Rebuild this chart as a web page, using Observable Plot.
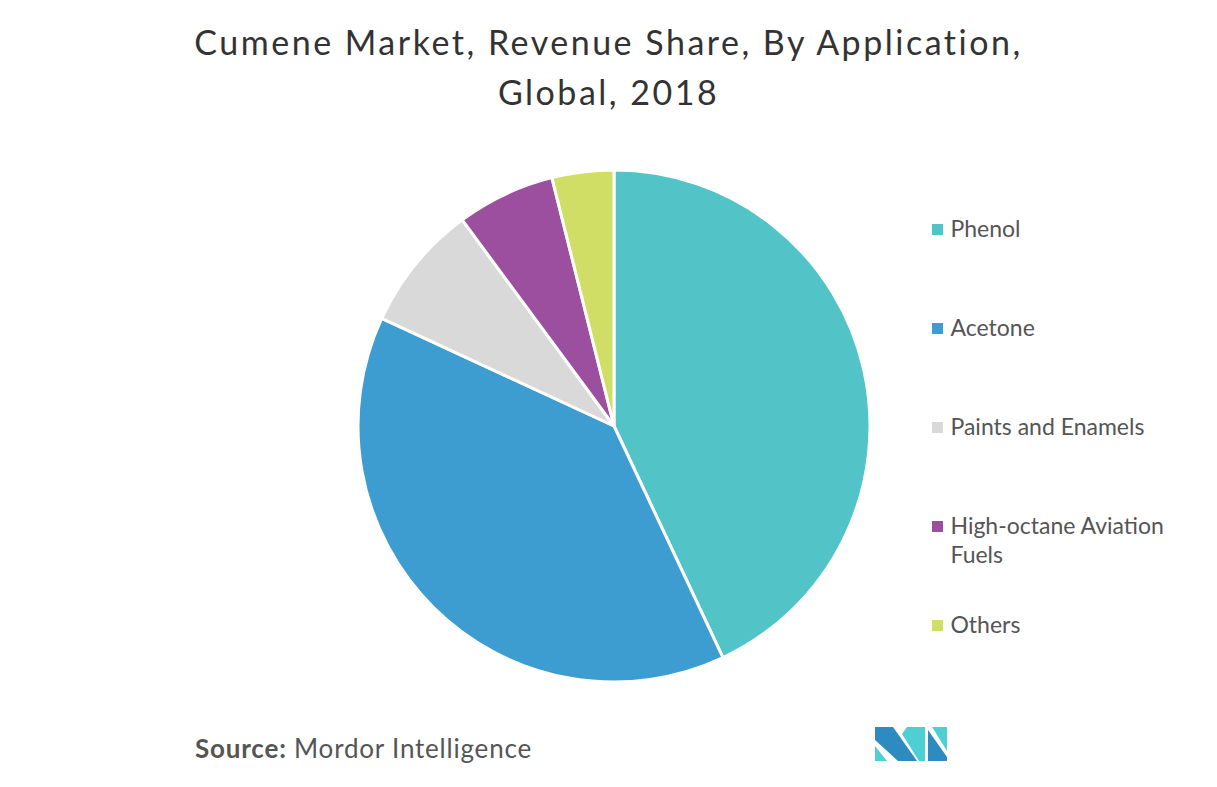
<!DOCTYPE html>
<html>
<head>
<meta charset="utf-8">
<script src="https://cdn.jsdelivr.net/npm/d3@7"></script>
<script src="https://cdn.jsdelivr.net/npm/@observablehq/plot@0.6"></script>
<style>
  html, body { margin: 0; padding: 0; background: #fff; }
  #wrap { position: relative; width: 1217px; height: 787px; overflow: hidden; font-family: Lato, "Open Sans", sans-serif; }
  #title { position: absolute; left: 0; top: 17px; width: 1217px; text-align: center; font-size: 34px; line-height: 50px; color: #333; letter-spacing: 2.5px; }
  #chart { position: absolute; left: 0; top: 140px; }
  #source { position: absolute; left: 195px; top: 732px; font-size: 26px; color: #555; letter-spacing: 0.8px; }
  #source b { font-weight: 700; }
  #logo { position: absolute; left: 875px; top: 727px; }
</style>
</head>
<body>
<div id="wrap">
  <div id="title">Cumene Market, Revenue Share, By Application,<br>Global, 2018</div>
  <div id="chart"></div>
  <div id="source"><b>Source:</b> Mordor Intelligence</div>
  <svg id="logo" width="72" height="36" viewBox="0 0 72 36">
    <polygon points="0,0 18,0 42,34 23,34 0,13" fill="#2E8BC0"/>
    <polygon points="0,19 0,34 12,34" fill="#4ECFD4"/>
    <polygon points="27,7 32,0 50,0 50,34 44,34" fill="#4ECFD4"/>
    <polygon points="53,3 53,34 72,34 72,30" fill="#2E8BC0"/>
    <polygon points="57,0 72,0 72,24" fill="#4ECFD4"/>
  </svg>
</div>
<script>
const categories = ["Phenol", "Acetone", "Paints and Enamels", "High-octane Aviation Fuels", "Others"];
const legendLabels = ["Phenol", "Acetone", "Paints and Enamels", "High-octane Aviation\nFuels", "Others"];
const shares = [43.0, 38.9, 8.0, 6.2, 3.9];
const colors = ["#52C4C7", "#3D9DD0", "#D9D9D9", "#9B4F9E", "#D1DE65"];

const data = categories.map((name, i) => ({name, value: shares[i], label: legendLabels[i]}));

const W = 1217, H = 560;
const cx = 614, cy = 286, R = 256;

function pieMark(index, scales) {
  const g = d3.create("svg:g").attr("transform", `translate(${cx},${cy})`);
  const arcs = d3.pie().sort(null).value(d => d.value)(data);
  const arc = d3.arc().innerRadius(0).outerRadius(R);
  g.selectAll("path").data(arcs).join("path")
    .attr("d", arc)
    .attr("fill", d => scales.color ? scales.color(d.data.name) : colors[categories.indexOf(d.data.name)])
    .attr("stroke", "#fff")
    .attr("stroke-width", 3)
    .attr("stroke-linejoin", "round");
  return g.node();
}

const chart = Plot.plot({
  width: W,
  height: H,
  margin: 0,
  style: {fontFamily: "Lato, 'Open Sans', sans-serif", background: "transparent"},
  x: {type: "linear", domain: [0, 1], range: [937, 1200], axis: null},
  y: {type: "point", domain: categories, range: [88, 486], padding: 0, axis: null},
  color: {type: "ordinal", domain: categories, range: colors},
  marks: [
    pieMark,
    Plot.dot(data, {x: () => 0, y: "name", fill: "name", symbol: "square", r: 6.2, stroke: null}),
    Plot.text(data, {x: () => 0, y: "name", text: "label", dx: 13, dy: -13, textAnchor: "start", lineAnchor: "top", lineHeight: 1.27, fontSize: 23, fill: "#555", style: "letter-spacing:0.3px"})
  ]
});
document.getElementById("chart").appendChild(chart);
</script>
</body>
</html>
